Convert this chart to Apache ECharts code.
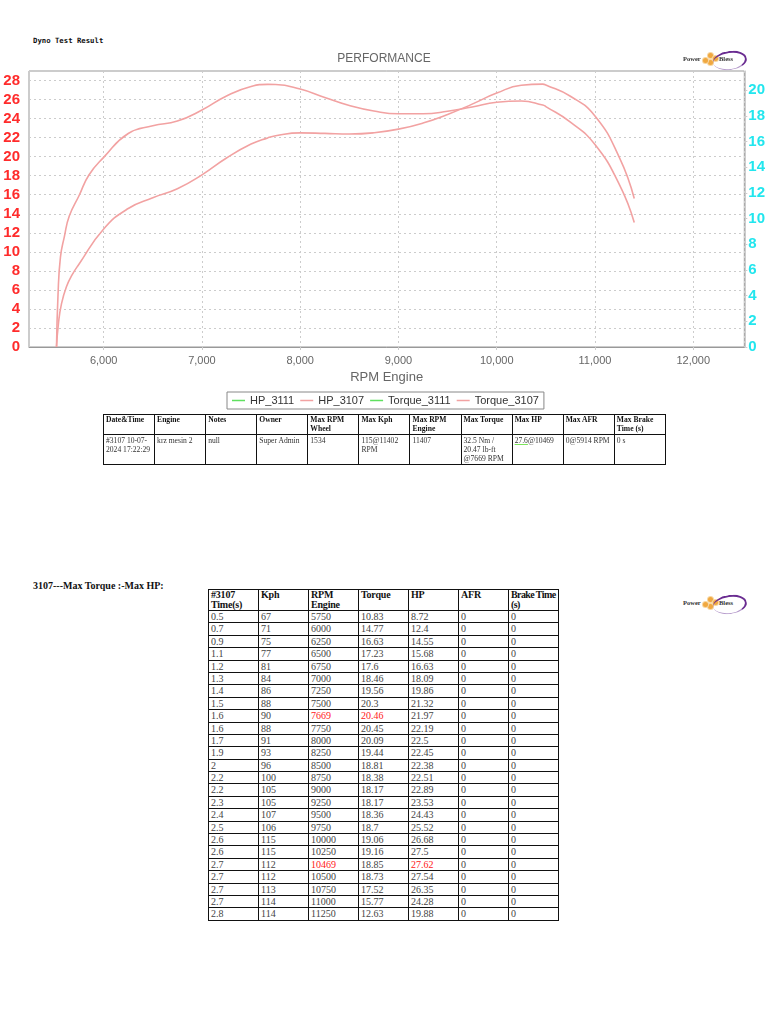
<!DOCTYPE html>
<html>
<head>
<meta charset="utf-8">
<script src="https://cdn.jsdelivr.net/npm/echarts@6/dist/echarts.min.js"></script>
<style>
  html, body { margin: 0; padding: 0; background: #fff; }
  body { width: 768px; height: 1024px; position: relative; overflow: hidden; }
  #chart { position: absolute; left: 0; top: 0; width: 768px; height: 420px; }
  .hdr { position: absolute; left: 33px; top: 36px; font-family: 'DejaVu Sans Mono', monospace; font-weight: bold; font-size: 7.3px; color: #111; }
  .sub { position: absolute; left: 33px; top: 580px; font-family: 'Liberation Serif', 'Times New Roman', serif; font-weight: bold; font-size: 10px; color: #111; }
  table { border-collapse: collapse; table-layout: fixed; font-family: 'Liberation Serif', 'Times New Roman', serif; position: absolute; }
  td, th { border: 1px solid #111; vertical-align: top; text-align: left; overflow: hidden; }
  .info { left: 103px; top: 414px; width: 563px; }
  .info th { font-size: 7.6px; line-height: 8.5px; font-weight: bold; height: 15px; padding: 1px 2px; color: #111; }
  .info td { font-size: 7.6px; line-height: 9px; height: 26px; padding: 1px 2px; color: #333; }
  .dt { left: 208px; top: 589px; width: 351px; }
  .dt th { font-size: 10px; line-height: 9.5px; font-weight: bold; height: 20px; padding: 0 1px 0 2px; color: #111; letter-spacing: -0.2px; }
  .dt th:last-child { letter-spacing: -0.6px; padding-right: 0; }
  .dt td { font-size: 10px; line-height: 11px; height: 11.4px; padding: 0 2px; color: #444; }
  .red { color: #ff2020 !important; }
  .ul { text-decoration: underline; text-decoration-color: #7be35b; }
  .logo { position: absolute; width: 64px; height: 20px; }
  .logo .pw { position: absolute; left: 0; top: 5px; font-family: 'Liberation Serif', serif; font-weight: bold; font-size: 6.5px; color: #333; }
  .logo .bl { position: absolute; left: 36px; top: 5px; font-family: 'Liberation Serif', serif; font-weight: bold; font-size: 6.5px; color: #333; }
  .logo .fl { position: absolute; width: 5px; height: 5px; border-radius: 50%; background: #f0a840; box-shadow: 0 0 0 1px #f7d6a0; }
  .logo .sw { position: absolute; left: 30px; top: 1px; width: 32px; height: 16px; border-radius: 50%; border-top: 2px solid #6a2c91; border-right: 2.5px solid #6a2c91; border-bottom: 1px solid #b59acb; border-left: 0 solid transparent; transform: rotate(-8deg); }
</style>
</head>
<body>
<div class="hdr">Dyno Test Result</div>
<div id="chart"></div>

<div class="logo" style="left:683px; top:50px;">
  <span class="pw">Power</span>
  <span class="fl" style="left:25px; top:3px;"></span>
  <span class="fl" style="left:30px; top:6px;"></span>
  <span class="fl" style="left:25px; top:10px;"></span>
  <span class="fl" style="left:20px; top:8px;"></span>
  <div class="sw"></div>
  <span class="bl">Bless</span>
</div>

<table class="info">
  <colgroup><col><col><col><col><col><col><col><col><col><col><col></colgroup>
  <tr><th>Date&amp;Time</th><th>Engine</th><th>Notes</th><th>Owner</th><th>Max RPM Wheel</th><th>Max Kph</th><th>Max RPM Engine</th><th>Max Torque</th><th>Max HP</th><th>Max AFR</th><th>Max Brake Time (s)</th></tr>
  <tr><td>#3107 10-07-2024 17:22:29</td><td>krz mesin 2</td><td>null</td><td>Super Admin</td><td>1534</td><td>115@11402 RPM</td><td>11407</td><td>32.5 Nm / 20.47 lb-ft @7669 RPM</td><td><span class="ul">27.6</span>@10469</td><td>0@5914 RPM</td><td>0 s</td></tr>
</table>

<div class="sub">3107---Max Torque :-Max HP:</div>

<div class="logo" style="left:683px; top:594px;">
  <span class="pw">Power</span>
  <span class="fl" style="left:25px; top:3px;"></span>
  <span class="fl" style="left:30px; top:6px;"></span>
  <span class="fl" style="left:25px; top:10px;"></span>
  <span class="fl" style="left:20px; top:8px;"></span>
  <div class="sw"></div>
  <span class="bl">Bless</span>
</div>

<table class="dt" id="dt"></table>

<script>
// ---- chart data ----
const rpmHp      = [5520, 5540, 5570, 5620, 5680, 5750, 6000, 6250, 6500, 6750, 7000, 7250, 7500, 7669, 7750, 8000, 8250, 8500, 8750, 9000, 9250, 9500, 9750, 10000, 10250, 10469, 10500, 10750, 11000, 11250, 11400];
const hp3107     = [0, 2.5, 4.5, 6.3, 7.6, 8.72, 12.4, 14.55, 15.68, 16.63, 18.09, 19.86, 21.32, 21.97, 22.19, 22.5, 22.45, 22.38, 22.51, 22.89, 23.53, 24.43, 25.52, 26.68, 27.5, 27.62, 27.54, 26.35, 24.28, 19.88, 15.6];
const rpmTq      = [5520, 5535, 5560, 5600, 5650, 5750, 5850, 6000, 6250, 6500, 6750, 7000, 7250, 7500, 7669, 7750, 8000, 8250, 8500, 8750, 9000, 9250, 9500, 9750, 10000, 10250, 10469, 10500, 10750, 11000, 11250, 11400];
const torque3107 = [0, 4, 7, 8.6, 10.2, 11.8, 13.4, 14.77, 16.63, 17.23, 17.6, 18.46, 19.56, 20.3, 20.46, 20.45, 20.09, 19.44, 18.81, 18.38, 18.17, 18.17, 18.36, 18.7, 19.06, 19.16, 18.85, 18.73, 17.52, 15.77, 12.63, 9.7];
const hp3111 = [];
const torque3111 = [];
const seriesNames = ['HP_3111', 'HP_3107', 'Torque_3111', 'Torque_3107'];

// ---- table data ----
const tblHeader = ['#3107 Time(s)', 'Kph', 'RPM Engine', 'Torque', 'HP', 'AFR', 'Brake Time (s)'];
const tblTime   = ['0.5','0.7','0.9','1.1','1.2','1.3','1.4','1.5','1.6','1.6','1.7','1.9','2','2.2','2.2','2.3','2.4','2.5','2.6','2.6','2.7','2.7','2.7','2.7','2.8'];
const tblKph    = ['67','71','75','77','81','84','86','88','90','88','91','93','96','100','105','105','107','106','115','115','112','112','113','114','114'];
const tblRpm    = ['5750','6000','6250','6500','6750','7000','7250','7500','7669','7750','8000','8250','8500','8750','9000','9250','9500','9750','10000','10250','10469','10500','10750','11000','11250'];
const tblTorque = ['10.83','14.77','16.63','17.23','17.6','18.46','19.56','20.3','20.46','20.45','20.09','19.44','18.81','18.38','18.17','18.17','18.36','18.7','19.06','19.16','18.85','18.73','17.52','15.77','12.63'];
const tblHp     = ['8.72','12.4','14.55','15.68','16.63','18.09','19.86','21.32','21.97','22.19','22.5','22.45','22.38','22.51','22.89','23.53','24.43','25.52','26.68','27.5','27.62','27.54','26.35','24.28','19.88'];
const tblAfr    = tblTime.map(() => '0');
const tblBrake  = tblTime.map(() => '0');
const maxTorqueRpm = '7669';
const maxHpRpm = '10469';

// build table
(function () {
  const t = document.getElementById('dt');
  let h = '<tr>' + tblHeader.map(s => '<th>' + s + '</th>').join('') + '</tr>';
  for (let i = 0; i < tblTime.length; i++) {
    const isT = tblRpm[i] === maxTorqueRpm, isH = tblRpm[i] === maxHpRpm;
    h += '<tr>' +
      '<td>' + tblTime[i] + '</td>' +
      '<td>' + tblKph[i] + '</td>' +
      '<td' + ((isT || isH) ? ' class="red"' : '') + '>' + tblRpm[i] + '</td>' +
      '<td' + (isT ? ' class="red"' : '') + '>' + tblTorque[i] + '</td>' +
      '<td' + (isH ? ' class="red"' : '') + '>' + tblHp[i] + '</td>' +
      '<td>' + tblAfr[i] + '</td>' +
      '<td>' + tblBrake[i] + '</td></tr>';
  }
  t.innerHTML = h;
})();

const pink = '#f2a2a2';
const green = '#5fe05f';
const chart = echarts.init(document.getElementById('chart'));
chart.setOption({
  animation: false,
  title: {
    text: 'PERFORMANCE', left: 'center', top: 48,
    textStyle: { color: '#666', fontSize: 12, fontWeight: 'normal', fontFamily: "'Liberation Sans Narrow', Arial, sans-serif" }
  },
  legend: {
    data: seriesNames, left: 227, top: 392,
    borderColor: '#888', borderWidth: 1, padding: [3, 5],
    icon: 'rect', itemWidth: 13, itemHeight: 1.5, itemGap: 6,
    textStyle: { fontSize: 11, color: '#333', fontFamily: 'Arial, sans-serif' }
  },
  grid: { left: 29, right: 23, top: 71, bottom: 73, show: true, borderColor: '#999', borderWidth: 1 },
  xAxis: {
    type: 'value', min: 5240, max: 12520, splitNumber: 7,
    name: 'RPM Engine', nameLocation: 'middle', nameGap: 24,
    nameTextStyle: { color: '#666', fontSize: 13, fontFamily: 'Arial, sans-serif' },
    axisLine: { show: true, lineStyle: { color: '#999' } },
    axisTick: { show: true, length: 3, lineStyle: { color: '#ccc' } },
    axisLabel: { color: '#666', fontSize: 11, margin: 8, showMinLabel: false, showMaxLabel: false, fontFamily: 'Arial, sans-serif' },
    splitLine: { show: true, lineStyle: { color: '#ccc', type: [2, 3] } }
  },
  yAxis: [
    {
      type: 'value', min: 0, max: 29, interval: 2, position: 'left',
      axisLine: { show: false }, axisTick: { show: false },
      axisLabel: { color: '#ff2b2b', fontSize: 15, fontWeight: 'bold', margin: 9, showMaxLabel: false, fontFamily: 'Arial, sans-serif' },
      splitLine: { show: true, lineStyle: { color: '#ccc', type: [2, 3] } }
    },
    {
      type: 'value', min: 0, max: 21.5, interval: 2, position: 'right', offset: 1,
      axisLine: { show: true, lineStyle: { color: '#ccc' } },
      axisTick: { show: true, length: 2, lineStyle: { color: '#ccc' } },
      axisLabel: { color: '#22e6ee', fontSize: 15, fontWeight: 'bold', margin: 3, showMaxLabel: false, fontFamily: 'Arial, sans-serif' },
      splitLine: { show: false }
    }
  ],
  series: [
    { name: 'HP_3111', type: 'line', yAxisIndex: 0, data: hp3111, color: green, showSymbol: false },
    { name: 'HP_3107', type: 'line', yAxisIndex: 0, data: rpmHp.map((r, i) => [r, hp3107[i]]), color: pink,
      showSymbol: false, smooth: 0.5, lineStyle: { width: 1.6, color: pink } },
    { name: 'Torque_3111', type: 'line', yAxisIndex: 1, data: torque3111, color: green, showSymbol: false },
    { name: 'Torque_3107', type: 'line', yAxisIndex: 1, data: rpmTq.map((r, i) => [r, torque3107[i]]), color: pink,
      showSymbol: false, smooth: 0.5, lineStyle: { width: 1.6, color: pink } }
  ]
});
</script>
</body>
</html>
